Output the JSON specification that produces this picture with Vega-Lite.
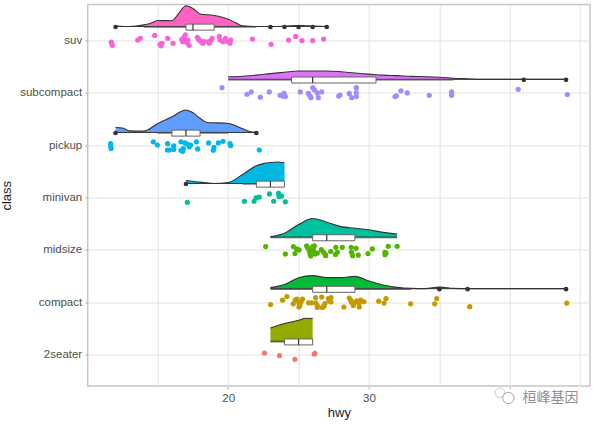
{
  "$schema": "https://vega.github.io/schema/vega-lite/v6.json",
  "width": 502.3,
  "height": 381.5,
  "autosize": "none",
  "padding": {"left": 87.7, "top": 4.5, "right": 10, "bottom": 38},
  "background": "white",
  "config": {
    "font": "Liberation Sans",
    "view": {"stroke": "#c6c6c6", "strokeWidth": 1.5}
  },
  "datasets": {
    "points": [
      {"class":"suv","hwy":11.7,"y":6.97},{"class":"suv","hwy":11.77,"y":6.91},{"class":"suv","hwy":13.57,"y":7.01},{"class":"suv","hwy":13.76,"y":7.045},{"class":"suv","hwy":14.78,"y":7.1},{"class":"suv","hwy":15.16,"y":6.93},{"class":"suv","hwy":15.3,"y":6.95},{"class":"suv","hwy":15.23,"y":6.9},{"class":"suv","hwy":15.7,"y":7.045},{"class":"suv","hwy":16.08,"y":6.95},{"class":"suv","hwy":16.7,"y":7.025},{"class":"suv","hwy":16.86,"y":7.06},{"class":"suv","hwy":16.96,"y":7.11},{"class":"suv","hwy":17.0,"y":6.98},{"class":"suv","hwy":16.77,"y":6.98},{"class":"suv","hwy":17.15,"y":7.01},{"class":"suv","hwy":17.22,"y":6.91},{"class":"suv","hwy":17.1,"y":6.96},{"class":"suv","hwy":17.81,"y":7.06},{"class":"suv","hwy":17.95,"y":7.01},{"class":"suv","hwy":18.09,"y":6.98},{"class":"suv","hwy":18.19,"y":6.95},{"class":"suv","hwy":17.9,"y":7.025},{"class":"suv","hwy":18.28,"y":6.98},{"class":"suv","hwy":18.66,"y":6.95},{"class":"suv","hwy":18.78,"y":7.0},{"class":"suv","hwy":18.85,"y":7.045},{"class":"suv","hwy":18.59,"y":6.98},{"class":"suv","hwy":19.37,"y":7.08},{"class":"suv","hwy":19.42,"y":7.01},{"class":"suv","hwy":19.65,"y":6.98},{"class":"suv","hwy":19.8,"y":7.045},{"class":"suv","hwy":20.0,"y":6.98},{"class":"suv","hwy":20.18,"y":7.01},{"class":"suv","hwy":20.13,"y":6.95},{"class":"suv","hwy":21.72,"y":7.03},{"class":"suv","hwy":23.04,"y":6.93},{"class":"suv","hwy":24.29,"y":7.01},{"class":"suv","hwy":24.79,"y":7.08},{"class":"suv","hwy":25.24,"y":7.0},{"class":"suv","hwy":26.0,"y":7.0},{"class":"suv","hwy":26.78,"y":7.03},
      {"class":"subcompact","hwy":19.56,"y":6.1},{"class":"subcompact","hwy":21.34,"y":5.975},{"class":"subcompact","hwy":21.64,"y":6.02},{"class":"subcompact","hwy":22.28,"y":5.92},{"class":"subcompact","hwy":22.92,"y":6.02},{"class":"subcompact","hwy":23.68,"y":5.955},{"class":"subcompact","hwy":23.87,"y":5.94},{"class":"subcompact","hwy":24.06,"y":5.93},{"class":"subcompact","hwy":23.96,"y":5.99},{"class":"subcompact","hwy":25.12,"y":6.02},{"class":"subcompact","hwy":25.7,"y":5.99},{"class":"subcompact","hwy":25.8,"y":5.94},{"class":"subcompact","hwy":25.88,"y":5.91},{"class":"subcompact","hwy":26.0,"y":6.1},{"class":"subcompact","hwy":26.12,"y":6.06},{"class":"subcompact","hwy":26.33,"y":6.0},{"class":"subcompact","hwy":26.4,"y":5.91},{"class":"subcompact","hwy":26.64,"y":6.02},{"class":"subcompact","hwy":27.85,"y":5.94},{"class":"subcompact","hwy":27.94,"y":5.96},{"class":"subcompact","hwy":28.6,"y":5.99},{"class":"subcompact","hwy":28.77,"y":5.91},{"class":"subcompact","hwy":29.1,"y":6.1},{"class":"subcompact","hwy":29.1,"y":6.005},{"class":"subcompact","hwy":29.1,"y":5.93},{"class":"subcompact","hwy":31.85,"y":5.93},{"class":"subcompact","hwy":31.95,"y":5.945},{"class":"subcompact","hwy":32.27,"y":6.04},{"class":"subcompact","hwy":32.72,"y":6.0},{"class":"subcompact","hwy":34.28,"y":5.955},{"class":"subcompact","hwy":35.87,"y":6.02},{"class":"subcompact","hwy":35.87,"y":5.955},{"class":"subcompact","hwy":40.6,"y":6.07},{"class":"subcompact","hwy":44.09,"y":5.97},
      {"class":"pickup","hwy":11.65,"y":5.03},{"class":"pickup","hwy":11.65,"y":4.99},{"class":"pickup","hwy":11.68,"y":4.94},{"class":"pickup","hwy":14.68,"y":5.065},{"class":"pickup","hwy":14.97,"y":5.005},{"class":"pickup","hwy":15.7,"y":5.03},{"class":"pickup","hwy":15.68,"y":4.91},{"class":"pickup","hwy":15.82,"y":4.91},{"class":"pickup","hwy":16.13,"y":4.99},{"class":"pickup","hwy":16.13,"y":4.92},{"class":"pickup","hwy":16.65,"y":5.065},{"class":"pickup","hwy":16.65,"y":4.905},{"class":"pickup","hwy":16.81,"y":4.935},{"class":"pickup","hwy":16.77,"y":4.885},{"class":"pickup","hwy":16.93,"y":5.045},{"class":"pickup","hwy":17.1,"y":5.02},{"class":"pickup","hwy":17.24,"y":4.97},{"class":"pickup","hwy":17.33,"y":5.005},{"class":"pickup","hwy":17.74,"y":5.065},{"class":"pickup","hwy":17.83,"y":4.93},{"class":"pickup","hwy":18.61,"y":5.045},{"class":"pickup","hwy":18.94,"y":4.905},{"class":"pickup","hwy":18.99,"y":4.96},{"class":"pickup","hwy":19.3,"y":5.045},{"class":"pickup","hwy":19.63,"y":5.075},{"class":"pickup","hwy":20.13,"y":5.03},{"class":"pickup","hwy":20.18,"y":4.995},{"class":"pickup","hwy":22.21,"y":4.91},
      {"class":"minivan","hwy":17.1,"y":3.91},{"class":"minivan","hwy":21.15,"y":3.93},{"class":"minivan","hwy":21.84,"y":3.93},{"class":"minivan","hwy":21.98,"y":3.995},{"class":"minivan","hwy":22.21,"y":4.01},{"class":"minivan","hwy":22.93,"y":4.07},{"class":"minivan","hwy":23.23,"y":3.93},{"class":"minivan","hwy":23.58,"y":4.08},{"class":"minivan","hwy":23.61,"y":4.02},{"class":"minivan","hwy":23.8,"y":4.03},{"class":"minivan","hwy":24.06,"y":3.92},
      {"class":"midsize","hwy":22.66,"y":3.065},{"class":"midsize","hwy":24.06,"y":2.92},{"class":"midsize","hwy":24.63,"y":3.065},{"class":"midsize","hwy":24.74,"y":2.93},{"class":"midsize","hwy":24.86,"y":3.02},{"class":"midsize","hwy":25.03,"y":3.0},{"class":"midsize","hwy":25.57,"y":3.08},{"class":"midsize","hwy":25.64,"y":3.04},{"class":"midsize","hwy":25.76,"y":2.99},{"class":"midsize","hwy":25.81,"y":2.92},{"class":"midsize","hwy":25.86,"y":2.885},{"class":"midsize","hwy":25.93,"y":2.955},{"class":"midsize","hwy":26.0,"y":3.065},{"class":"midsize","hwy":26.12,"y":3.08},{"class":"midsize","hwy":26.05,"y":3.0},{"class":"midsize","hwy":26.17,"y":2.92},{"class":"midsize","hwy":26.33,"y":2.94},{"class":"midsize","hwy":26.62,"y":3.005},{"class":"midsize","hwy":26.76,"y":2.96},{"class":"midsize","hwy":26.88,"y":2.92},{"class":"midsize","hwy":26.92,"y":2.89},{"class":"midsize","hwy":27.28,"y":2.97},{"class":"midsize","hwy":27.62,"y":2.915},{"class":"midsize","hwy":27.76,"y":2.96},{"class":"midsize","hwy":27.65,"y":3.05},{"class":"midsize","hwy":28.1,"y":3.05},{"class":"midsize","hwy":28.74,"y":3.05},{"class":"midsize","hwy":29.08,"y":3.03},{"class":"midsize","hwy":28.75,"y":2.955},{"class":"midsize","hwy":28.84,"y":2.89},{"class":"midsize","hwy":29.24,"y":2.9},{"class":"midsize","hwy":29.93,"y":2.93},{"class":"midsize","hwy":30.24,"y":3.02},{"class":"midsize","hwy":31.14,"y":2.955},{"class":"midsize","hwy":31.14,"y":2.91},{"class":"midsize","hwy":31.21,"y":2.94},{"class":"midsize","hwy":31.37,"y":3.07},{"class":"midsize","hwy":32.0,"y":3.07},
      {"class":"compact","hwy":23.01,"y":1.955},{"class":"compact","hwy":23.86,"y":2.04},{"class":"compact","hwy":24.17,"y":2.11},{"class":"compact","hwy":24.62,"y":1.97},{"class":"compact","hwy":24.76,"y":2.04},{"class":"compact","hwy":24.88,"y":2.06},{"class":"compact","hwy":25.02,"y":1.99},{"class":"compact","hwy":25.02,"y":1.91},{"class":"compact","hwy":25.09,"y":1.94},{"class":"compact","hwy":25.17,"y":2.005},{"class":"compact","hwy":25.28,"y":2.06},{"class":"compact","hwy":25.71,"y":1.99},{"class":"compact","hwy":25.92,"y":1.99},{"class":"compact","hwy":26.21,"y":2.09},{"class":"compact","hwy":26.21,"y":1.99},{"class":"compact","hwy":26.33,"y":1.94},{"class":"compact","hwy":26.33,"y":1.9},{"class":"compact","hwy":26.64,"y":2.1},{"class":"compact","hwy":26.87,"y":1.975},{"class":"compact","hwy":26.68,"y":1.9},{"class":"compact","hwy":26.8,"y":1.925},{"class":"compact","hwy":27.11,"y":2.07},{"class":"compact","hwy":27.18,"y":2.025},{"class":"compact","hwy":27.3,"y":2.09},{"class":"compact","hwy":27.3,"y":2.005},{"class":"compact","hwy":28.22,"y":1.91},{"class":"compact","hwy":28.6,"y":2.08},{"class":"compact","hwy":28.7,"y":2.04},{"class":"compact","hwy":28.77,"y":1.995},{"class":"compact","hwy":28.89,"y":1.94},{"class":"compact","hwy":29.0,"y":1.995},{"class":"compact","hwy":29.12,"y":2.025},{"class":"compact","hwy":29.31,"y":1.91},{"class":"compact","hwy":29.31,"y":1.985},{"class":"compact","hwy":29.41,"y":2.04},{"class":"compact","hwy":29.64,"y":2.01},{"class":"compact","hwy":30.69,"y":2.02},{"class":"compact","hwy":31.07,"y":1.985},{"class":"compact","hwy":31.21,"y":2.07},{"class":"compact","hwy":32.96,"y":1.97},{"class":"compact","hwy":34.67,"y":1.97},{"class":"compact","hwy":34.81,"y":2.07},{"class":"compact","hwy":37.16,"y":1.915},{"class":"compact","hwy":44.05,"y":1.985},
      {"class":"2seater","hwy":22.58,"y":1.03},{"class":"2seater","hwy":23.65,"y":0.98},{"class":"2seater","hwy":24.74,"y":0.91},{"class":"2seater","hwy":26.16,"y":1.025},{"class":"2seater","hwy":26.11,"y":1.01}
    ],
    "density": [
      {"class":"suv","hwy":12,"base":7.27,"top":7.28},{"class":"suv","hwy":13,"base":7.27,"top":7.27},{"class":"suv","hwy":14,"base":7.27,"top":7.3},{"class":"suv","hwy":14.5,"base":7.27,"top":7.33},{"class":"suv","hwy":15,"base":7.27,"top":7.385},{"class":"suv","hwy":16,"base":7.27,"top":7.38},{"class":"suv","hwy":16.5,"base":7.27,"top":7.525},{"class":"suv","hwy":17,"base":7.27,"top":7.665},{"class":"suv","hwy":17.5,"base":7.27,"top":7.615},{"class":"suv","hwy":18,"base":7.27,"top":7.51},{"class":"suv","hwy":19,"base":7.27,"top":7.48},{"class":"suv","hwy":20,"base":7.27,"top":7.41},{"class":"suv","hwy":20.5,"base":7.27,"top":7.347},{"class":"suv","hwy":21,"base":7.27,"top":7.283},{"class":"suv","hwy":22,"base":7.27,"top":7.27},{"class":"suv","hwy":23,"base":7.27,"top":7.27},{"class":"suv","hwy":24,"base":7.27,"top":7.275},{"class":"suv","hwy":25,"base":7.27,"top":7.29},{"class":"suv","hwy":26,"base":7.27,"top":7.28},{"class":"suv","hwy":27,"base":7.27,"top":7.27},
      {"class":"subcompact","hwy":20,"base":6.26,"top":6.31},{"class":"subcompact","hwy":21,"base":6.26,"top":6.32},{"class":"subcompact","hwy":22,"base":6.26,"top":6.34},{"class":"subcompact","hwy":23,"base":6.26,"top":6.37},{"class":"subcompact","hwy":24,"base":6.26,"top":6.395},{"class":"subcompact","hwy":25,"base":6.26,"top":6.42},{"class":"subcompact","hwy":26,"base":6.26,"top":6.42},{"class":"subcompact","hwy":27,"base":6.26,"top":6.42},{"class":"subcompact","hwy":28,"base":6.26,"top":6.405},{"class":"subcompact","hwy":29,"base":6.26,"top":6.38},{"class":"subcompact","hwy":30,"base":6.26,"top":6.36},{"class":"subcompact","hwy":31,"base":6.26,"top":6.34},{"class":"subcompact","hwy":32,"base":6.26,"top":6.33},{"class":"subcompact","hwy":33,"base":6.26,"top":6.317},{"class":"subcompact","hwy":34,"base":6.26,"top":6.31},{"class":"subcompact","hwy":35,"base":6.26,"top":6.3},{"class":"subcompact","hwy":36,"base":6.26,"top":6.28},{"class":"subcompact","hwy":37,"base":6.26,"top":6.27},{"class":"subcompact","hwy":38,"base":6.26,"top":6.26},{"class":"subcompact","hwy":41,"base":6.26,"top":6.26},{"class":"subcompact","hwy":44,"base":6.26,"top":6.26},
      {"class":"pickup","hwy":12,"base":5.245,"top":5.34},{"class":"pickup","hwy":12.5,"base":5.245,"top":5.33},{"class":"pickup","hwy":13,"base":5.245,"top":5.275},{"class":"pickup","hwy":14,"base":5.245,"top":5.27},{"class":"pickup","hwy":15,"base":5.245,"top":5.415},{"class":"pickup","hwy":16,"base":5.245,"top":5.545},{"class":"pickup","hwy":17,"base":5.245,"top":5.675},{"class":"pickup","hwy":17.5,"base":5.245,"top":5.62},{"class":"pickup","hwy":18,"base":5.245,"top":5.515},{"class":"pickup","hwy":18.5,"base":5.245,"top":5.435},{"class":"pickup","hwy":19,"base":5.245,"top":5.43},{"class":"pickup","hwy":20,"base":5.245,"top":5.415},{"class":"pickup","hwy":21,"base":5.245,"top":5.32},{"class":"pickup","hwy":21.5,"base":5.245,"top":5.265},{"class":"pickup","hwy":22,"base":5.245,"top":5.245},
      {"class":"minivan","hwy":17,"base":4.27,"top":4.327},{"class":"minivan","hwy":18,"base":4.27,"top":4.295},{"class":"minivan","hwy":19,"base":4.27,"top":4.27},{"class":"minivan","hwy":20,"base":4.27,"top":4.29},{"class":"minivan","hwy":21,"base":4.27,"top":4.435},{"class":"minivan","hwy":22,"base":4.27,"top":4.61},{"class":"minivan","hwy":22.5,"base":4.27,"top":4.65},{"class":"minivan","hwy":23,"base":4.27,"top":4.67},{"class":"minivan","hwy":23.5,"base":4.27,"top":4.68},{"class":"minivan","hwy":24,"base":4.27,"top":4.665},
      {"class":"midsize","hwy":23,"base":3.245,"top":3.255},{"class":"midsize","hwy":24,"base":3.245,"top":3.32},{"class":"midsize","hwy":25,"base":3.245,"top":3.485},{"class":"midsize","hwy":26,"base":3.245,"top":3.6},{"class":"midsize","hwy":27,"base":3.245,"top":3.53},{"class":"midsize","hwy":28,"base":3.245,"top":3.445},{"class":"midsize","hwy":29,"base":3.245,"top":3.415},{"class":"midsize","hwy":30,"base":3.245,"top":3.385},{"class":"midsize","hwy":31,"base":3.245,"top":3.335},{"class":"midsize","hwy":32,"base":3.245,"top":3.305},
      {"class":"compact","hwy":23,"base":2.26,"top":2.28},{"class":"compact","hwy":24,"base":2.26,"top":2.34},{"class":"compact","hwy":25,"base":2.26,"top":2.47},{"class":"compact","hwy":26,"base":2.26,"top":2.51},{"class":"compact","hwy":27,"base":2.26,"top":2.47},{"class":"compact","hwy":28,"base":2.26,"top":2.47},{"class":"compact","hwy":29,"base":2.26,"top":2.495},{"class":"compact","hwy":30,"base":2.26,"top":2.405},{"class":"compact","hwy":31,"base":2.26,"top":2.33},{"class":"compact","hwy":32,"base":2.26,"top":2.285},{"class":"compact","hwy":33,"base":2.26,"top":2.265},{"class":"compact","hwy":34,"base":2.26,"top":2.26},{"class":"compact","hwy":35,"base":2.26,"top":2.29},{"class":"compact","hwy":36,"base":2.26,"top":2.265},{"class":"compact","hwy":37,"base":2.26,"top":2.26},{"class":"compact","hwy":44,"base":2.26,"top":2.26},
      {"class":"2seater","hwy":23,"base":1.255,"top":1.51},{"class":"2seater","hwy":24,"base":1.255,"top":1.595},{"class":"2seater","hwy":25,"base":1.255,"top":1.655},{"class":"2seater","hwy":25.5,"base":1.255,"top":1.695},{"class":"2seater","hwy":26,"base":1.255,"top":1.69}
    ],
    "boxes": [
      {"class":"suv","min":12,"max":27,"lo":14,"q1":17,"median":17.5,"q3":19,"hi":22,"base":7.27,"mid":7.258,"boxTop":7.315,"boxBottom":7.2},
      {"class":"subcompact","min":20,"max":44,"lo":20,"q1":24.5,"median":26,"q3":30.5,"hi":36,"base":6.26,"mid":6.248,"boxTop":6.305,"boxBottom":6.19},
      {"class":"pickup","min":12,"max":22,"lo":15,"q1":16,"median":17,"q3":18,"hi":20,"base":5.245,"mid":5.233,"boxTop":5.29,"boxBottom":5.175},
      {"class":"minivan","min":17,"max":24,"lo":21,"q1":22,"median":23,"q3":24,"hi":24,"base":4.27,"mid":4.258,"boxTop":4.315,"boxBottom":4.2},
      {"class":"midsize","min":23,"max":32,"lo":23,"q1":26,"median":27,"q3":29,"hi":32,"base":3.245,"mid":3.233,"boxTop":3.29,"boxBottom":3.175},
      {"class":"compact","min":23,"max":44,"lo":23,"q1":26,"median":27,"q3":29,"hi":33,"base":2.26,"mid":2.248,"boxTop":2.305,"boxBottom":2.19},
      {"class":"2seater","min":23,"max":26,"lo":23,"q1":24,"median":25,"q3":26,"hi":26,"base":1.255,"mid":1.243,"boxTop":1.3,"boxBottom":1.185}
    ],
    "outliers": [
      {"class":"suv","hwy":12,"y":7.26},{"class":"suv","hwy":23,"y":7.26},{"class":"suv","hwy":24,"y":7.26},{"class":"suv","hwy":25,"y":7.26},{"class":"suv","hwy":26,"y":7.26},{"class":"suv","hwy":27,"y":7.26},
      {"class":"subcompact","hwy":41,"y":6.25},{"class":"subcompact","hwy":44,"y":6.25},
      {"class":"pickup","hwy":12,"y":5.235},{"class":"pickup","hwy":22,"y":5.235},
      {"class":"minivan","hwy":17,"y":4.26},
      {"class":"compact","hwy":35,"y":2.25},{"class":"compact","hwy":37,"y":2.25},{"class":"compact","hwy":44,"y":2.25}
    ],
    "watermark": [
      {"label":"桓峰基因","hwy":40.9,"y":0.165}
    ],
    "logoBig": [
      {"hwy":39.9,"y":0.17}
    ],
    "logoSmall": [
      {"hwy":39.3,"y":0.27}
    ]
  },
  "layer": [
    {
      "data": {"name": "points"},
      "mark": {"type": "circle", "size": 27, "opacity": 1},
      "encoding": {
        "x": {
          "field": "hwy",
          "type": "quantitative",
          "scale": {"domain": [10.02, 45.7], "nice": false, "zero": false},
          "axis": {
            "title": "hwy",
            "titleFontSize": 13,
            "titleFontWeight": "normal",
            "titleColor": "#222222",
            "titlePadding": 3,
            "values": [15, 20, 25, 30, 35, 40, 45],
            "labelExpr": "datum.value == 20 || datum.value == 30 ? datum.label : ''",
            "labelFontSize": 11.5,
            "labelColor": "#4d4d4d",
            "labelPadding": 3,
            "domain": false,
            "grid": true,
            "gridColor": "#e4e4e4",
            "gridWidth": 1.1,
            "tickSize": 3,
            "tickColor": "#b3b3b3",
            "tickOpacity": {"condition": {"test": "datum.value == 20 || datum.value == 30 || datum.value == 40", "value": 1}, "value": 0}
          }
        },
        "y": {
          "field": "y",
          "type": "quantitative",
          "scale": {"domain": [0.4, 7.69], "nice": false, "zero": false},
          "axis": {
            "title": "class",
            "titleFontSize": 13,
            "titleFontWeight": "normal",
            "titleColor": "#222222",
            "titlePadding": 6,
            "values": [1, 2, 3, 4, 5, 6, 7],
            "labelExpr": "['', '2seater', 'compact', 'midsize', 'minivan', 'pickup', 'subcompact', 'suv'][datum.value]",
            "labelFontSize": 11.5,
            "labelColor": "#4d4d4d",
            "labelPadding": 3,
            "domain": false,
            "grid": true,
            "gridColor": "#e4e4e4",
            "gridWidth": 1.1,
            "tickSize": 3,
            "tickColor": "#b3b3b3"
          }
        },
        "color": {
          "field": "class",
          "type": "nominal",
          "legend": null,
          "scale": {
            "domain": ["2seater", "compact", "midsize", "minivan", "pickup", "subcompact", "suv"],
            "range": ["#F8766D", "#C49A00", "#53B400", "#00C094", "#00B6EB", "#A58AFF", "#FB61D7"]
          }
        }
      }
    },
    {
      "data": {"name": "density"},
      "mark": {"type": "area", "interpolate": "monotone"},
      "encoding": {
        "x": {"field": "hwy", "type": "quantitative"},
        "y": {"field": "top", "type": "quantitative"},
        "y2": {"field": "base"},
        "color": {
          "field": "class",
          "type": "nominal",
          "legend": null,
          "scale": {
            "domain": ["2seater", "compact", "midsize", "minivan", "pickup", "subcompact", "suv"],
            "range": ["#93AA00", "#00BA38", "#00C19F", "#00B9E3", "#619CFF", "#DB72FB", "#FF61C3"]
          }
        }
      }
    },
    {
      "data": {"name": "density"},
      "mark": {"type": "line", "color": "#333333", "strokeWidth": 1.1, "interpolate": "monotone"},
      "encoding": {
        "x": {"field": "hwy", "type": "quantitative"},
        "y": {"field": "top", "type": "quantitative"},
        "detail": {"field": "class"}
      }
    },
    {
      "data": {"name": "boxes"},
      "mark": {"type": "rule", "color": "#333333", "strokeWidth": 1},
      "encoding": {
        "x": {"field": "min", "type": "quantitative"},
        "x2": {"field": "max"},
        "y": {"field": "base", "type": "quantitative"}
      }
    },
    {
      "data": {"name": "boxes"},
      "mark": {"type": "rule", "color": "#555555", "strokeWidth": 1},
      "encoding": {
        "x": {"field": "lo", "type": "quantitative"},
        "x2": {"field": "hi"},
        "y": {"field": "mid", "type": "quantitative"}
      }
    },
    {
      "data": {"name": "boxes"},
      "mark": {"type": "rect", "fill": "white", "stroke": "#666666", "strokeWidth": 1},
      "encoding": {
        "x": {"field": "q1", "type": "quantitative"},
        "x2": {"field": "q3"},
        "y": {"field": "boxTop", "type": "quantitative"},
        "y2": {"field": "boxBottom"}
      }
    },
    {
      "data": {"name": "boxes"},
      "mark": {"type": "rule", "color": "#333333", "strokeWidth": 1.2},
      "encoding": {
        "x": {"field": "median", "type": "quantitative"},
        "y": {"field": "boxTop", "type": "quantitative"},
        "y2": {"field": "boxBottom"}
      }
    },
    {
      "data": {"name": "outliers"},
      "mark": {"type": "circle", "size": 22, "color": "#333333", "opacity": 1},
      "encoding": {
        "x": {"field": "hwy", "type": "quantitative"},
        "y": {"field": "y", "type": "quantitative"}
      }
    },
    {
      "data": {"name": "watermark"},
      "mark": {"type": "text", "font": "Noto Sans CJK SC", "fontSize": 14, "color": "#8f8f8f", "align": "left", "baseline": "middle"},
      "encoding": {
        "x": {"field": "hwy", "type": "quantitative"},
        "y": {"field": "y", "type": "quantitative"},
        "text": {"field": "label"}
      }
    },
    {
      "data": {"name": "logoSmall"},
      "mark": {"type": "point", "shape": "circle", "size": 90, "filled": false, "color": "#b5b5b5", "strokeWidth": 1},
      "encoding": {
        "x": {"field": "hwy", "type": "quantitative"},
        "y": {"field": "y", "type": "quantitative"}
      }
    },
    {
      "data": {"name": "logoBig"},
      "mark": {"type": "point", "shape": "circle", "size": 130, "filled": true, "fill": "white", "stroke": "#a8a8a8", "strokeWidth": 1, "opacity": 1},
      "encoding": {
        "x": {"field": "hwy", "type": "quantitative"},
        "y": {"field": "y", "type": "quantitative"}
      }
    }
  ],
  "resolve": {"scale": {"color": "independent"}}
}
